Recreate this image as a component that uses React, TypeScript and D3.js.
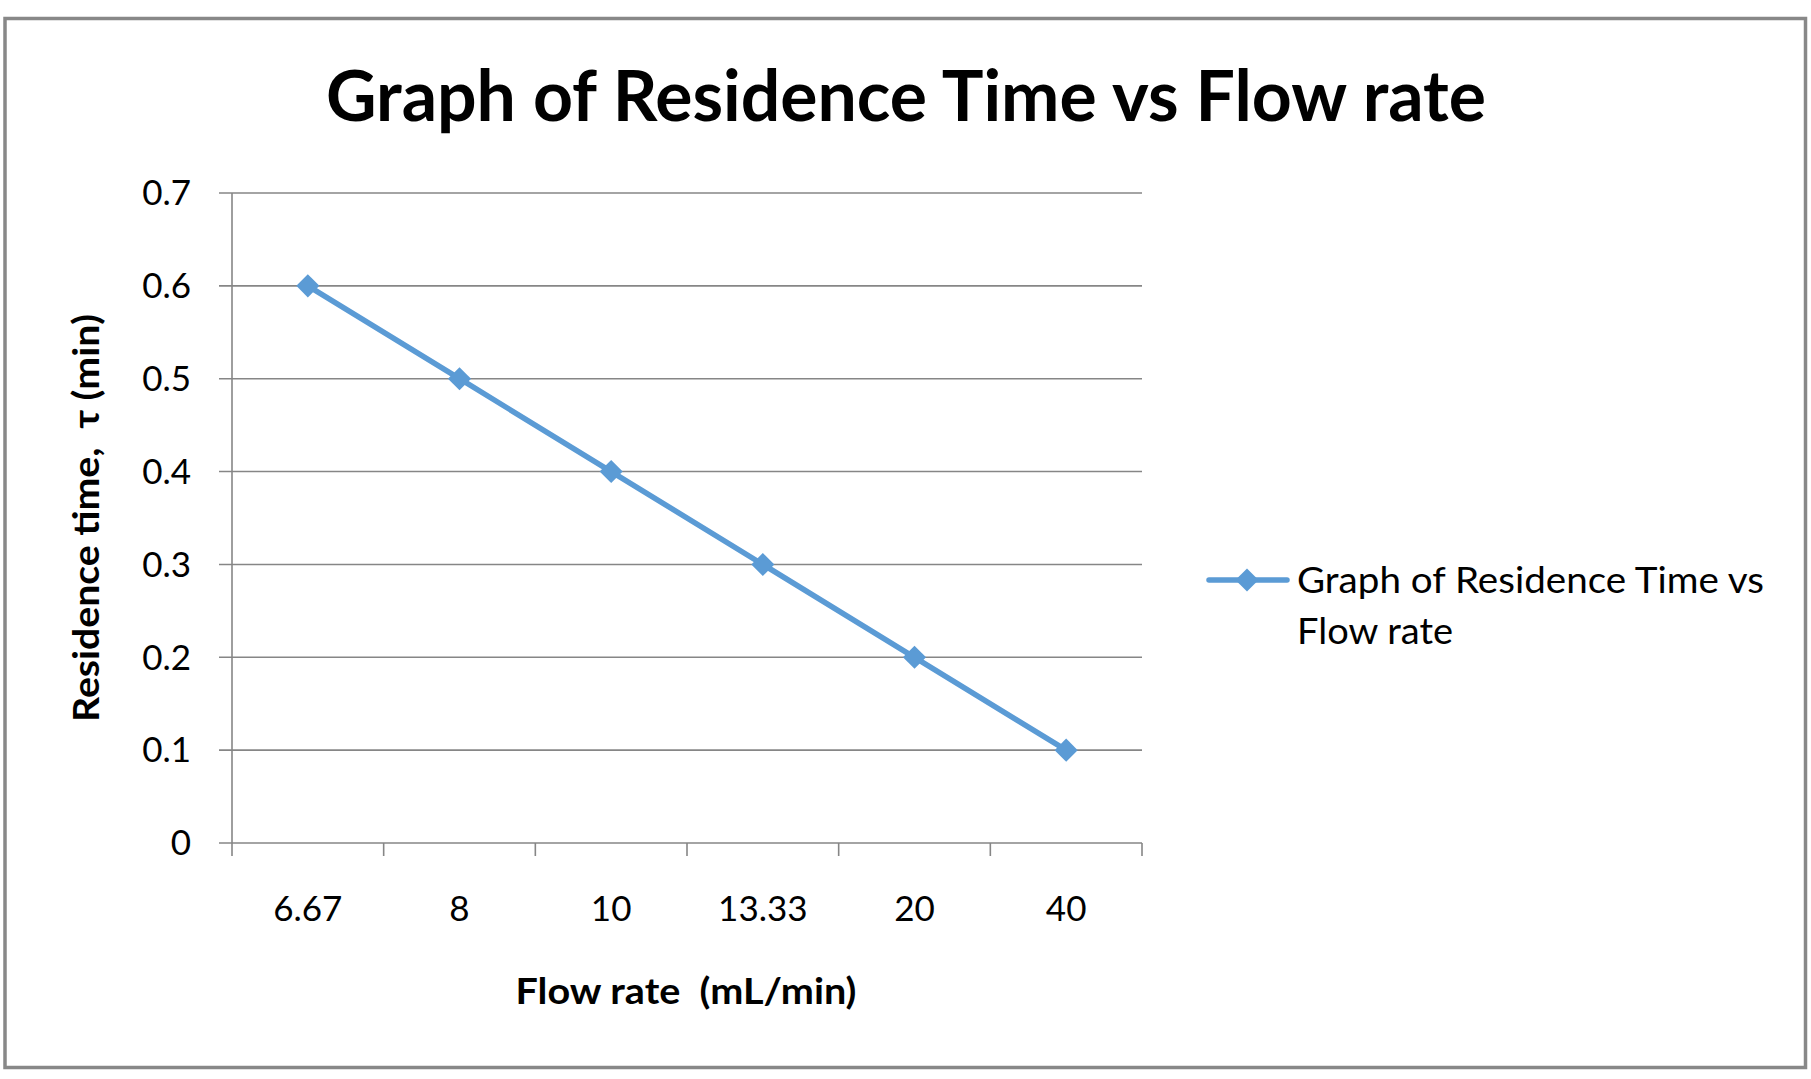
import React from 'react';
import * as d3 from 'd3';

// Flow rate categories (mL/min) and residence time readings (min)
const flowRates = ['6.67', '8', '10', '13.33', '20', '40'];
const residenceTimes = [0.6, 0.5, 0.4, 0.3, 0.2, 0.1];
const yTicks = [0, 0.1, 0.2, 0.3, 0.4, 0.5, 0.6, 0.7];

const seriesName = ['Graph of Residence Time vs', 'Flow rate'];
const title = 'Graph of Residence Time vs Flow rate';

const WIDTH = 1811;
const HEIGHT = 1079;
const FONT = 'Lato, "Open Sans", sans-serif';
const BLUE = '#5b9bd5';
const GRID = '#868686';

const App = () => {
    const plot = { left: 232, right: 1142, top: 193, bottom: 843 };

    const x = d3
        .scaleBand()
        .domain(flowRates)
        .range([plot.left, plot.right]);

    const y = d3
        .scaleLinear()
        .domain([0, 0.7])
        .range([plot.bottom, plot.top]);

    const points = flowRates.map((f, i) => ({
        cx: x(f) + x.bandwidth() / 2,
        cy: y(residenceTimes[i]),
    }));

    const line = d3
        .line()
        .x(d => d.cx)
        .y(d => d.cy);

    const diamond = d3.symbol().type(d3.symbolDiamond2).size(340)();

    // category boundaries for the tick marks below the axis
    const bounds = flowRates.map(f => x(f)).concat([plot.right]);

    return (
        <svg width={WIDTH} height={HEIGHT} style={{ display: 'block', position: 'absolute', left: 0, top: 0 }}>
            <rect x={0} y={0} width={WIDTH} height={HEIGHT} fill="#fff" />
            <rect x={5} y={18.5} width={1800.5} height={1049} fill="#fff" stroke="#888" strokeWidth={3.5} />

            <text
                x={906}
                y={121}
                textAnchor="middle"
                fontFamily={FONT}
                fontWeight="bold"
                fontSize={70}
                textLength={1160}
                lengthAdjust="spacingAndGlyphs"
            >
                {title}
            </text>

            {/* horizontal gridlines with short ticks left of the axis */}
            {yTicks.map(t => (
                <g key={t}>
                    <line x1={plot.left - 13} x2={plot.right} y1={y(t)} y2={y(t)} stroke={GRID} strokeWidth={1.6} />
                    <text
                        x={191}
                        y={y(t)}
                        dy="0.35em"
                        textAnchor="end"
                        fontFamily={FONT}
                        fontSize={35}
                    >
                        {t === 0 ? '0' : d3.format('.1f')(t)}
                    </text>
                </g>
            ))}

            <line x1={plot.left} x2={plot.left} y1={plot.top} y2={plot.bottom} stroke={GRID} strokeWidth={1.6} />

            {bounds.map((b, i) => (
                <line key={i} x1={b} x2={b} y1={plot.bottom} y2={plot.bottom + 13} stroke={GRID} strokeWidth={1.6} />
            ))}

            {flowRates.map(f => (
                <text
                    key={f}
                    x={x(f) + x.bandwidth() / 2}
                    y={909}
                    dy="0.35em"
                    textAnchor="middle"
                    fontFamily={FONT}
                    fontSize={35}
                >
                    {f}
                </text>
            ))}

            <path d={line(points)} fill="none" stroke={BLUE} strokeWidth={5.5} strokeLinejoin="round" />
            {points.map((p, i) => (
                <path key={i} d={diamond} transform={`translate(${p.cx},${p.cy})`} fill={BLUE} />
            ))}

            <text
                x={686}
                y={991}
                dy="0.35em"
                textAnchor="middle"
                fontFamily={FONT}
                fontWeight="bold"
                fontSize={36}
                textLength={341}
                lengthAdjust="spacingAndGlyphs"
                style={{ whiteSpace: 'pre' }}
            >
                {'Flow rate  (mL/min)'}
            </text>

            <text
                transform="translate(86,518) rotate(-90)"
                dy="0.35em"
                textAnchor="middle"
                fontFamily={FONT}
                fontWeight="bold"
                fontSize={36}
                textLength={408}
                lengthAdjust="spacingAndGlyphs"
                style={{ whiteSpace: 'pre' }}
            >
                {'Residence time,  τ (min)'}
            </text>

            {/* legend */}
            <line x1={1209} x2={1287} y1={580} y2={580} stroke={BLUE} strokeWidth={5.5} strokeLinecap="round" />
            <path d={diamond} transform="translate(1247,580)" fill={BLUE} />
            <text
                x={1297}
                y={580}
                dy="0.35em"
                fontFamily={FONT}
                fontSize={36}
                textLength={467}
                lengthAdjust="spacingAndGlyphs"
            >
                {seriesName[0]}
            </text>
            <text
                x={1297}
                y={631}
                dy="0.35em"
                fontFamily={FONT}
                fontSize={36}
                textLength={156}
                lengthAdjust="spacingAndGlyphs"
            >
                {seriesName[1]}
            </text>
        </svg>
    );
};

export default App;
